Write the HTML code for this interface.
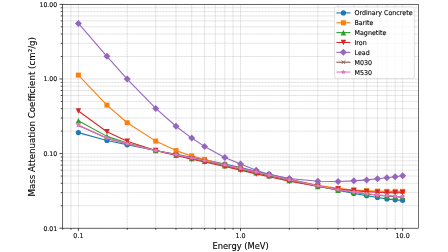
<!DOCTYPE html>
<html><head><meta charset="utf-8"><title>Mass Attenuation Coefficient</title>
<style>html,body{margin:0;padding:0;background:#fff;overflow:hidden}svg{display:block}text{stroke:#000;stroke-width:.1px;stroke-linejoin:round}</style>
</head><body>
<svg width="448" height="252" viewBox="0 0 448 252" font-family="'DejaVu Sans', 'Liberation Sans', sans-serif">
<rect width="448" height="252" fill="#fff"/>
<path d="M62.69,4.35V228.2M70.98,4.35V228.2M78.40,4.35V228.2M127.20,4.35V228.2M155.74,4.35V228.2M175.99,4.35V228.2M191.70,4.35V228.2M204.54,4.35V228.2M215.39,4.35V228.2M224.79,4.35V228.2M233.08,4.35V228.2M240.50,4.35V228.2M289.30,4.35V228.2M317.84,4.35V228.2M338.09,4.35V228.2M353.80,4.35V228.2M366.64,4.35V228.2M377.49,4.35V228.2M386.89,4.35V228.2M395.18,4.35V228.2M62.3,228.20H418.6M62.3,205.74H418.6M62.3,192.60H418.6M62.3,183.28H418.6M62.3,176.05H418.6M62.3,170.14H418.6M62.3,165.14H418.6M62.3,160.81H418.6M62.3,157.00H418.6M62.3,153.58H418.6M62.3,131.12H418.6M62.3,117.98H418.6M62.3,108.66H418.6M62.3,101.43H418.6M62.3,95.52H418.6M62.3,90.52H418.6M62.3,86.20H418.6M62.3,82.38H418.6M62.3,78.97H418.6M62.3,56.50H418.6M62.3,43.37H418.6M62.3,34.04H418.6M62.3,26.81H418.6M62.3,20.90H418.6M62.3,15.91H418.6M62.3,11.58H418.6M62.3,7.76H418.6M62.3,4.35H418.6M402.60,4.35V228.2" stroke="#b0b0b0" stroke-width="0.8" stroke-dasharray="1.2 0.3" fill="none" opacity="0.48"/>
<clipPath id="c"><rect x="62.3" y="4.35" width="356.3" height="223.85"/></clipPath>
<g clip-path="url(#c)">
<polyline points="78.40,132.61 106.94,140.44 127.20,144.83 155.74,150.49 175.99,154.30 191.70,157.29 204.54,159.86 224.79,164.09 240.50,167.54 256.21,171.18 269.04,174.22 289.30,179.03 317.84,185.80 338.09,190.31 353.80,193.47 366.64,195.65 377.49,197.49 386.89,198.90 395.18,199.83 402.60,200.37" fill="none" stroke="#1f77b4" stroke-width="1.1" stroke-linejoin="round"/>
<circle cx="78.40" cy="132.61" r="2.60" fill="#1f77b4"/>
<circle cx="106.94" cy="140.44" r="2.60" fill="#1f77b4"/>
<circle cx="127.20" cy="144.83" r="2.60" fill="#1f77b4"/>
<circle cx="155.74" cy="150.49" r="2.60" fill="#1f77b4"/>
<circle cx="175.99" cy="154.30" r="2.60" fill="#1f77b4"/>
<circle cx="191.70" cy="157.29" r="2.60" fill="#1f77b4"/>
<circle cx="204.54" cy="159.86" r="2.60" fill="#1f77b4"/>
<circle cx="224.79" cy="164.09" r="2.60" fill="#1f77b4"/>
<circle cx="240.50" cy="167.54" r="2.60" fill="#1f77b4"/>
<circle cx="256.21" cy="171.18" r="2.60" fill="#1f77b4"/>
<circle cx="269.04" cy="174.22" r="2.60" fill="#1f77b4"/>
<circle cx="289.30" cy="179.03" r="2.60" fill="#1f77b4"/>
<circle cx="317.84" cy="185.80" r="2.60" fill="#1f77b4"/>
<circle cx="338.09" cy="190.31" r="2.60" fill="#1f77b4"/>
<circle cx="353.80" cy="193.47" r="2.60" fill="#1f77b4"/>
<circle cx="366.64" cy="195.65" r="2.60" fill="#1f77b4"/>
<circle cx="377.49" cy="197.49" r="2.60" fill="#1f77b4"/>
<circle cx="386.89" cy="198.90" r="2.60" fill="#1f77b4"/>
<circle cx="395.18" cy="199.83" r="2.60" fill="#1f77b4"/>
<circle cx="402.60" cy="200.37" r="2.60" fill="#1f77b4"/>
<polyline points="78.40,75.12 106.94,105.13 127.20,122.74 155.74,141.10 175.99,150.61 191.70,155.90 204.54,159.39 224.79,165.00 240.50,168.71 256.21,172.37 269.04,175.28 289.30,179.60 317.84,185.37 338.09,188.35 353.80,190.00 366.64,190.71 377.49,191.12 386.89,191.33 395.18,191.33 402.60,191.33" fill="none" stroke="#ff7f0e" stroke-width="1.1" stroke-linejoin="round"/>
<rect x="75.90" y="72.62" width="5.00" height="5.00" fill="#ff7f0e"/>
<rect x="104.44" y="102.63" width="5.00" height="5.00" fill="#ff7f0e"/>
<rect x="124.70" y="120.24" width="5.00" height="5.00" fill="#ff7f0e"/>
<rect x="153.24" y="138.60" width="5.00" height="5.00" fill="#ff7f0e"/>
<rect x="173.49" y="148.11" width="5.00" height="5.00" fill="#ff7f0e"/>
<rect x="189.20" y="153.40" width="5.00" height="5.00" fill="#ff7f0e"/>
<rect x="202.04" y="156.89" width="5.00" height="5.00" fill="#ff7f0e"/>
<rect x="222.29" y="162.50" width="5.00" height="5.00" fill="#ff7f0e"/>
<rect x="238.00" y="166.21" width="5.00" height="5.00" fill="#ff7f0e"/>
<rect x="253.71" y="169.87" width="5.00" height="5.00" fill="#ff7f0e"/>
<rect x="266.54" y="172.78" width="5.00" height="5.00" fill="#ff7f0e"/>
<rect x="286.80" y="177.10" width="5.00" height="5.00" fill="#ff7f0e"/>
<rect x="315.34" y="182.87" width="5.00" height="5.00" fill="#ff7f0e"/>
<rect x="335.59" y="185.85" width="5.00" height="5.00" fill="#ff7f0e"/>
<rect x="351.30" y="187.50" width="5.00" height="5.00" fill="#ff7f0e"/>
<rect x="364.14" y="188.21" width="5.00" height="5.00" fill="#ff7f0e"/>
<rect x="374.99" y="188.62" width="5.00" height="5.00" fill="#ff7f0e"/>
<rect x="384.39" y="188.83" width="5.00" height="5.00" fill="#ff7f0e"/>
<rect x="392.68" y="188.83" width="5.00" height="5.00" fill="#ff7f0e"/>
<rect x="400.10" y="188.83" width="5.00" height="5.00" fill="#ff7f0e"/>
<polyline points="78.40,120.68 106.94,136.39 127.20,142.91 155.74,150.49 175.99,155.08 191.70,158.47 204.54,161.22 224.79,165.61 240.50,169.07 256.21,172.78 269.04,175.72 289.30,180.34 317.84,186.42 338.09,190.21 353.80,192.17 366.64,193.92 377.49,195.18 386.89,196.01 395.18,196.62 402.60,197.11" fill="none" stroke="#2ca02c" stroke-width="1.1" stroke-linejoin="round"/>
<polygon points="78.40,117.88 81.20,123.48 75.60,123.48" fill="#2ca02c"/>
<polygon points="106.94,133.59 109.74,139.19 104.14,139.19" fill="#2ca02c"/>
<polygon points="127.20,140.11 130.00,145.71 124.40,145.71" fill="#2ca02c"/>
<polygon points="155.74,147.69 158.54,153.29 152.94,153.29" fill="#2ca02c"/>
<polygon points="175.99,152.28 178.79,157.88 173.19,157.88" fill="#2ca02c"/>
<polygon points="191.70,155.67 194.50,161.27 188.90,161.27" fill="#2ca02c"/>
<polygon points="204.54,158.42 207.34,164.02 201.74,164.02" fill="#2ca02c"/>
<polygon points="224.79,162.81 227.59,168.41 221.99,168.41" fill="#2ca02c"/>
<polygon points="240.50,166.27 243.30,171.87 237.70,171.87" fill="#2ca02c"/>
<polygon points="256.21,169.98 259.01,175.58 253.41,175.58" fill="#2ca02c"/>
<polygon points="269.04,172.92 271.84,178.52 266.24,178.52" fill="#2ca02c"/>
<polygon points="289.30,177.54 292.10,183.14 286.50,183.14" fill="#2ca02c"/>
<polygon points="317.84,183.62 320.64,189.22 315.04,189.22" fill="#2ca02c"/>
<polygon points="338.09,187.41 340.89,193.01 335.29,193.01" fill="#2ca02c"/>
<polygon points="353.80,189.37 356.60,194.97 351.00,194.97" fill="#2ca02c"/>
<polygon points="366.64,191.12 369.44,196.72 363.84,196.72" fill="#2ca02c"/>
<polygon points="377.49,192.38 380.29,197.98 374.69,197.98" fill="#2ca02c"/>
<polygon points="386.89,193.21 389.69,198.81 384.09,198.81" fill="#2ca02c"/>
<polygon points="395.18,193.82 397.98,199.42 392.38,199.42" fill="#2ca02c"/>
<polygon points="402.60,194.31 405.40,199.91 399.80,199.91" fill="#2ca02c"/>
<polyline points="78.40,111.04 106.94,131.71 127.20,141.32 155.74,150.52 175.99,155.59 191.70,159.18 204.54,162.04 224.79,166.57 240.50,170.16 256.21,173.85 269.04,176.81 289.30,181.20 317.84,186.33 338.09,189.02 353.80,190.61 366.64,191.64 377.49,192.28 386.89,192.60 395.18,192.71 402.60,192.66" fill="none" stroke="#d62728" stroke-width="1.1" stroke-linejoin="round"/>
<polygon points="78.40,113.84 81.20,108.24 75.60,108.24" fill="#d62728"/>
<polygon points="106.94,134.51 109.74,128.91 104.14,128.91" fill="#d62728"/>
<polygon points="127.20,144.12 130.00,138.52 124.40,138.52" fill="#d62728"/>
<polygon points="155.74,153.32 158.54,147.72 152.94,147.72" fill="#d62728"/>
<polygon points="175.99,158.39 178.79,152.79 173.19,152.79" fill="#d62728"/>
<polygon points="191.70,161.98 194.50,156.38 188.90,156.38" fill="#d62728"/>
<polygon points="204.54,164.84 207.34,159.24 201.74,159.24" fill="#d62728"/>
<polygon points="224.79,169.37 227.59,163.77 221.99,163.77" fill="#d62728"/>
<polygon points="240.50,172.96 243.30,167.36 237.70,167.36" fill="#d62728"/>
<polygon points="256.21,176.65 259.01,171.05 253.41,171.05" fill="#d62728"/>
<polygon points="269.04,179.61 271.84,174.01 266.24,174.01" fill="#d62728"/>
<polygon points="289.30,184.00 292.10,178.40 286.50,178.40" fill="#d62728"/>
<polygon points="317.84,189.13 320.64,183.53 315.04,183.53" fill="#d62728"/>
<polygon points="338.09,191.82 340.89,186.22 335.29,186.22" fill="#d62728"/>
<polygon points="353.80,193.41 356.60,187.81 351.00,187.81" fill="#d62728"/>
<polygon points="366.64,194.44 369.44,188.84 363.84,188.84" fill="#d62728"/>
<polygon points="377.49,195.08 380.29,189.48 374.69,189.48" fill="#d62728"/>
<polygon points="386.89,195.40 389.69,189.80 384.09,189.80" fill="#d62728"/>
<polygon points="395.18,195.51 397.98,189.91 392.38,189.91" fill="#d62728"/>
<polygon points="402.60,195.46 405.40,189.86 399.80,189.86" fill="#d62728"/>
<polyline points="78.40,23.44 106.94,56.28 127.20,79.02 155.74,108.41 175.99,126.27 191.70,138.07 204.54,146.40 224.79,157.47 240.50,164.00 256.21,170.30 269.04,174.40 289.30,178.47 317.84,181.24 338.09,181.46 353.80,180.86 366.64,179.89 377.49,178.82 386.89,177.78 395.18,176.70 402.60,175.72" fill="none" stroke="#9467bd" stroke-width="1.1" stroke-linejoin="round"/>
<polygon points="78.40,19.94 81.90,23.44 78.40,26.94 74.90,23.44" fill="#9467bd"/>
<polygon points="106.94,52.78 110.44,56.28 106.94,59.78 103.44,56.28" fill="#9467bd"/>
<polygon points="127.20,75.52 130.70,79.02 127.20,82.52 123.70,79.02" fill="#9467bd"/>
<polygon points="155.74,104.91 159.24,108.41 155.74,111.91 152.24,108.41" fill="#9467bd"/>
<polygon points="175.99,122.77 179.49,126.27 175.99,129.77 172.49,126.27" fill="#9467bd"/>
<polygon points="191.70,134.57 195.20,138.07 191.70,141.57 188.20,138.07" fill="#9467bd"/>
<polygon points="204.54,142.90 208.04,146.40 204.54,149.90 201.04,146.40" fill="#9467bd"/>
<polygon points="224.79,153.97 228.29,157.47 224.79,160.97 221.29,157.47" fill="#9467bd"/>
<polygon points="240.50,160.50 244.00,164.00 240.50,167.50 237.00,164.00" fill="#9467bd"/>
<polygon points="256.21,166.80 259.71,170.30 256.21,173.80 252.71,170.30" fill="#9467bd"/>
<polygon points="269.04,170.90 272.54,174.40 269.04,177.90 265.54,174.40" fill="#9467bd"/>
<polygon points="289.30,174.97 292.80,178.47 289.30,181.97 285.80,178.47" fill="#9467bd"/>
<polygon points="317.84,177.74 321.34,181.24 317.84,184.74 314.34,181.24" fill="#9467bd"/>
<polygon points="338.09,177.96 341.59,181.46 338.09,184.96 334.59,181.46" fill="#9467bd"/>
<polygon points="353.80,177.36 357.30,180.86 353.80,184.36 350.30,180.86" fill="#9467bd"/>
<polygon points="366.64,176.39 370.14,179.89 366.64,183.39 363.14,179.89" fill="#9467bd"/>
<polygon points="377.49,175.32 380.99,178.82 377.49,182.32 373.99,178.82" fill="#9467bd"/>
<polygon points="386.89,174.28 390.39,177.78 386.89,181.28 383.39,177.78" fill="#9467bd"/>
<polygon points="395.18,173.20 398.68,176.70 395.18,180.20 391.68,176.70" fill="#9467bd"/>
<polygon points="402.60,172.22 406.10,175.72 402.60,179.22 399.10,175.72" fill="#9467bd"/>
<polyline points="78.40,125.48 106.94,138.35 127.20,143.86 155.74,150.49 175.99,154.74 191.70,157.91 204.54,160.57 224.79,164.91 240.50,168.40 256.21,172.03 269.04,175.02 289.30,179.68 317.84,185.89 338.09,189.71 353.80,192.06 366.64,193.81 377.49,195.07 386.89,195.89 395.18,196.50 402.60,196.86" fill="none" stroke="#8c564b" stroke-width="1.1" stroke-linejoin="round"/>
<path d="M76.65,123.73L80.15,127.23M76.65,127.23L80.15,123.73" stroke="#8c564b" stroke-width="0.95" fill="none"/>
<path d="M105.19,136.60L108.69,140.10M105.19,140.10L108.69,136.60" stroke="#8c564b" stroke-width="0.95" fill="none"/>
<path d="M125.45,142.11L128.95,145.61M125.45,145.61L128.95,142.11" stroke="#8c564b" stroke-width="0.95" fill="none"/>
<path d="M153.99,148.74L157.49,152.24M153.99,152.24L157.49,148.74" stroke="#8c564b" stroke-width="0.95" fill="none"/>
<path d="M174.24,152.99L177.74,156.49M174.24,156.49L177.74,152.99" stroke="#8c564b" stroke-width="0.95" fill="none"/>
<path d="M189.95,156.16L193.45,159.66M189.95,159.66L193.45,156.16" stroke="#8c564b" stroke-width="0.95" fill="none"/>
<path d="M202.79,158.82L206.29,162.32M202.79,162.32L206.29,158.82" stroke="#8c564b" stroke-width="0.95" fill="none"/>
<path d="M223.04,163.16L226.54,166.66M223.04,166.66L226.54,163.16" stroke="#8c564b" stroke-width="0.95" fill="none"/>
<path d="M238.75,166.65L242.25,170.15M238.75,170.15L242.25,166.65" stroke="#8c564b" stroke-width="0.95" fill="none"/>
<path d="M254.46,170.28L257.96,173.78M254.46,173.78L257.96,170.28" stroke="#8c564b" stroke-width="0.95" fill="none"/>
<path d="M267.29,173.27L270.79,176.77M267.29,176.77L270.79,173.27" stroke="#8c564b" stroke-width="0.95" fill="none"/>
<path d="M287.55,177.93L291.05,181.43M287.55,181.43L291.05,177.93" stroke="#8c564b" stroke-width="0.95" fill="none"/>
<path d="M316.09,184.14L319.59,187.64M316.09,187.64L319.59,184.14" stroke="#8c564b" stroke-width="0.95" fill="none"/>
<path d="M336.34,187.96L339.84,191.46M336.34,191.46L339.84,187.96" stroke="#8c564b" stroke-width="0.95" fill="none"/>
<path d="M352.05,190.31L355.55,193.81M352.05,193.81L355.55,190.31" stroke="#8c564b" stroke-width="0.95" fill="none"/>
<path d="M364.89,192.06L368.39,195.56M364.89,195.56L368.39,192.06" stroke="#8c564b" stroke-width="0.95" fill="none"/>
<path d="M375.74,193.32L379.24,196.82M375.74,196.82L379.24,193.32" stroke="#8c564b" stroke-width="0.95" fill="none"/>
<path d="M385.14,194.14L388.64,197.64M385.14,197.64L388.64,194.14" stroke="#8c564b" stroke-width="0.95" fill="none"/>
<path d="M393.43,194.75L396.93,198.25M393.43,198.25L396.93,194.75" stroke="#8c564b" stroke-width="0.95" fill="none"/>
<path d="M400.85,195.11L404.35,198.61M400.85,198.61L404.35,195.11" stroke="#8c564b" stroke-width="0.95" fill="none"/>
<polyline points="78.40,124.88 106.94,137.95 127.20,143.62 155.74,150.49 175.99,154.74 191.70,157.91 204.54,160.57 224.79,164.91 240.50,168.40 256.21,172.03 269.04,175.02 289.30,179.68 317.84,185.89 338.09,189.61 353.80,191.96 366.64,193.70 377.49,194.95 386.89,195.65 395.18,196.25 402.60,196.62" fill="none" stroke="#e377c2" stroke-width="1.1" stroke-linejoin="round"/>
<polygon points="78.40,122.48 79.25,123.70 80.68,124.14 79.78,125.33 79.81,126.82 78.40,126.33 76.99,126.82 77.02,125.33 76.12,124.14 77.55,123.70" fill="#e377c2"/>
<polygon points="106.94,135.55 107.80,136.78 109.23,137.21 108.32,138.40 108.36,139.89 106.94,139.40 105.53,139.89 105.57,138.40 104.66,137.21 106.09,136.78" fill="#e377c2"/>
<polygon points="127.20,141.22 128.05,142.45 129.48,142.88 128.58,144.07 128.61,145.56 127.20,145.07 125.79,145.56 125.82,144.07 124.91,142.88 126.34,142.45" fill="#e377c2"/>
<polygon points="155.74,148.09 156.59,149.32 158.02,149.75 157.12,150.94 157.15,152.44 155.74,151.94 154.33,152.44 154.36,150.94 153.46,149.75 154.89,149.32" fill="#e377c2"/>
<polygon points="175.99,152.34 176.85,153.56 178.28,154.00 177.37,155.19 177.40,156.68 175.99,156.19 174.58,156.68 174.61,155.19 173.71,154.00 175.14,153.56" fill="#e377c2"/>
<polygon points="191.70,155.51 192.56,156.74 193.99,157.17 193.08,158.36 193.11,159.85 191.70,159.36 190.29,159.85 190.32,158.36 189.42,157.17 190.85,156.74" fill="#e377c2"/>
<polygon points="204.54,158.17 205.39,159.40 206.82,159.83 205.92,161.02 205.95,162.51 204.54,162.02 203.13,162.51 203.16,161.02 202.26,159.83 203.69,159.40" fill="#e377c2"/>
<polygon points="224.79,162.51 225.64,163.74 227.07,164.17 226.17,165.36 226.20,166.85 224.79,166.36 223.38,166.85 223.41,165.36 222.51,164.17 223.94,163.74" fill="#e377c2"/>
<polygon points="240.50,166.00 241.35,167.23 242.78,167.66 241.88,168.85 241.91,170.34 240.50,169.85 239.09,170.34 239.12,168.85 238.22,167.66 239.65,167.23" fill="#e377c2"/>
<polygon points="256.21,169.63 257.06,170.85 258.49,171.29 257.59,172.48 257.62,173.97 256.21,173.48 254.80,173.97 254.83,172.48 253.93,171.29 255.36,170.85" fill="#e377c2"/>
<polygon points="269.04,172.62 269.90,173.85 271.33,174.28 270.42,175.47 270.46,176.97 269.04,176.47 267.63,176.97 267.67,175.47 266.76,174.28 268.19,173.85" fill="#e377c2"/>
<polygon points="289.30,177.28 290.15,178.50 291.58,178.93 290.68,180.12 290.71,181.62 289.30,181.13 287.89,181.62 287.92,180.12 287.01,178.93 288.44,178.50" fill="#e377c2"/>
<polygon points="317.84,183.49 318.69,184.72 320.12,185.15 319.22,186.34 319.25,187.83 317.84,187.34 316.43,187.83 316.46,186.34 315.56,185.15 316.99,184.72" fill="#e377c2"/>
<polygon points="338.09,187.21 338.95,188.44 340.38,188.87 339.47,190.06 339.50,191.55 338.09,191.06 336.68,191.55 336.71,190.06 335.81,188.87 337.24,188.44" fill="#e377c2"/>
<polygon points="353.80,189.56 354.66,190.78 356.09,191.22 355.18,192.41 355.21,193.90 353.80,193.41 352.39,193.90 352.42,192.41 351.52,191.22 352.95,190.78" fill="#e377c2"/>
<polygon points="366.64,191.30 367.49,192.52 368.92,192.96 368.02,194.15 368.05,195.64 366.64,195.15 365.23,195.64 365.26,194.15 364.36,192.96 365.79,192.52" fill="#e377c2"/>
<polygon points="377.49,192.55 378.34,193.78 379.77,194.21 378.87,195.40 378.90,196.89 377.49,196.40 376.08,196.89 376.11,195.40 375.21,194.21 376.64,193.78" fill="#e377c2"/>
<polygon points="386.89,193.25 387.74,194.48 389.17,194.91 388.27,196.10 388.30,197.60 386.89,197.10 385.48,197.60 385.51,196.10 384.61,194.91 386.04,194.48" fill="#e377c2"/>
<polygon points="395.18,193.85 396.03,195.08 397.47,195.51 396.56,196.70 396.59,198.20 395.18,197.70 393.77,198.20 393.80,196.70 392.90,195.51 394.33,195.08" fill="#e377c2"/>
<polygon points="402.60,194.22 403.45,195.45 404.88,195.88 403.98,197.07 404.01,198.56 402.60,198.07 401.19,198.56 401.22,197.07 400.32,195.88 401.75,195.45" fill="#e377c2"/>
</g>
<path d="M62.3,228.20h-2.9M62.3,205.74h-1.6M62.3,192.60h-1.6M62.3,183.28h-1.6M62.3,176.05h-1.6M62.3,170.14h-1.6M62.3,165.14h-1.6M62.69,228.2v1.6M62.3,160.81h-1.6M70.98,228.2v1.6M62.3,157.00h-1.6M78.40,228.2v2.9M62.3,153.58h-2.9M127.20,228.2v1.6M62.3,131.12h-1.6M155.74,228.2v1.6M62.3,117.98h-1.6M175.99,228.2v1.6M62.3,108.66h-1.6M191.70,228.2v1.6M62.3,101.43h-1.6M204.54,228.2v1.6M62.3,95.52h-1.6M215.39,228.2v1.6M62.3,90.52h-1.6M224.79,228.2v1.6M62.3,86.20h-1.6M233.08,228.2v1.6M62.3,82.38h-1.6M240.50,228.2v2.9M62.3,78.97h-2.9M289.30,228.2v1.6M62.3,56.50h-1.6M317.84,228.2v1.6M62.3,43.37h-1.6M338.09,228.2v1.6M62.3,34.04h-1.6M353.80,228.2v1.6M62.3,26.81h-1.6M366.64,228.2v1.6M62.3,20.90h-1.6M377.49,228.2v1.6M62.3,15.91h-1.6M386.89,228.2v1.6M62.3,11.58h-1.6M395.18,228.2v1.6M62.3,7.76h-1.6M402.60,228.2v2.9M62.3,4.35h-2.9" stroke="#000" stroke-width="0.7" fill="none"/>
<rect x="62.3" y="4.35" width="356.3" height="223.85" fill="none" stroke="#000" stroke-width="0.56"/>
<text transform="translate(78.40,238.1) scale(1,1.05)" font-size="6.35" text-anchor="middle" fill="#000">0.1</text>
<text transform="translate(240.50,238.1) scale(1,1.05)" font-size="6.35" text-anchor="middle" fill="#000">1.0</text>
<text transform="translate(402.60,238.1) scale(1,1.05)" font-size="6.35" text-anchor="middle" fill="#000">10.0</text>
<text transform="translate(57.2,6.85) scale(1,1.05)" font-size="6.2" text-anchor="end" fill="#000">10.00</text>
<text transform="translate(57.2,81.47) scale(1,1.05)" font-size="6.2" text-anchor="end" fill="#000">1.00</text>
<text transform="translate(57.2,156.08) scale(1,1.05)" font-size="6.2" text-anchor="end" fill="#000">0.10</text>
<text transform="translate(57.2,230.70) scale(1,1.05)" font-size="6.2" text-anchor="end" fill="#000">0.01</text>
<text x="240.6" y="248.8" font-size="8.33" text-anchor="middle" fill="#000">Energy (MeV)</text>
<text transform="translate(34.8,116.8) rotate(-90)" font-size="8.7" text-anchor="middle" fill="#000">Mass Attenuation Coefficient (cm²/g)</text>
<rect x="334.6" y="6.9" width="79.69999999999999" height="71.5" rx="1.4" fill="#fff" fill-opacity="0.8" stroke="#ccc" stroke-width="0.6"/>
<path d="M336.4,12.90H350.4" stroke="#1f77b4" stroke-width="1.1"/>
<circle cx="343.40" cy="12.90" r="2.60" fill="#1f77b4"/>
<text transform="translate(354.5,15.35) scale(1,1.05)" font-size="6.35" fill="#000">Ordinary Concrete</text>
<path d="M336.4,22.76H350.4" stroke="#ff7f0e" stroke-width="1.1"/>
<rect x="340.90" y="20.26" width="5.00" height="5.00" fill="#ff7f0e"/>
<text transform="translate(354.5,25.21) scale(1,1.05)" font-size="6.35" fill="#000">Barite</text>
<path d="M336.4,32.62H350.4" stroke="#2ca02c" stroke-width="1.1"/>
<polygon points="343.40,29.82 346.20,35.42 340.60,35.42" fill="#2ca02c"/>
<text transform="translate(354.5,35.07) scale(1,1.05)" font-size="6.35" fill="#000">Magnetite</text>
<path d="M336.4,42.48H350.4" stroke="#d62728" stroke-width="1.1"/>
<polygon points="343.40,45.28 346.20,39.68 340.60,39.68" fill="#d62728"/>
<text transform="translate(354.5,44.93) scale(1,1.05)" font-size="6.35" fill="#000">Iron</text>
<path d="M336.4,52.34H350.4" stroke="#9467bd" stroke-width="1.1"/>
<polygon points="343.40,48.84 346.90,52.34 343.40,55.84 339.90,52.34" fill="#9467bd"/>
<text transform="translate(354.5,54.79) scale(1,1.05)" font-size="6.35" fill="#000">Lead</text>
<path d="M336.4,62.20H350.4" stroke="#8c564b" stroke-width="1.1"/>
<path d="M341.65,60.45L345.15,63.95M341.65,63.95L345.15,60.45" stroke="#8c564b" stroke-width="0.95" fill="none"/>
<text transform="translate(354.5,64.65) scale(1,1.05)" font-size="6.35" fill="#000">M030</text>
<path d="M336.4,72.06H350.4" stroke="#e377c2" stroke-width="1.1"/>
<polygon points="343.40,69.66 344.25,70.89 345.68,71.32 344.78,72.51 344.81,74.00 343.40,73.51 341.99,74.00 342.02,72.51 341.12,71.32 342.55,70.89" fill="#e377c2"/>
<text transform="translate(354.5,74.51) scale(1,1.05)" font-size="6.35" fill="#000">M530</text>
</svg>
</body></html>
